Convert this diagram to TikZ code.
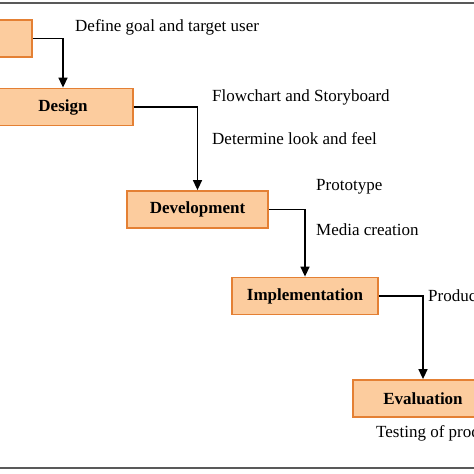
\documentclass[tikz,border=0pt]{standalone}
\usepackage{fontspec}
\setmainfont{Liberation Serif}
\usetikzlibrary{arrows.meta}
\definecolor{boxfill}{RGB}{252,204,158}
\definecolor{boxline}{RGB}{228,128,52}
\tikzset{
  stage/.style={draw=boxline, fill=boxfill, line width=1.8pt, minimum height=37pt, inner sep=0pt, font=\fontsize{17}{20}\selectfont\bfseries},
  note/.style={anchor=west, inner sep=0pt, font=\fontsize{17}{20}\selectfont},
  flow/.style={line width=1.5pt, -{Triangle[length=10pt,width=9pt]}},
  frame/.style={draw=black!65, line width=2pt}
}
\begin{document}
\begin{tikzpicture}[x=1pt,y=-1pt]
\useasboundingbox (0,0) rectangle (474,474);
\clip (0,0) rectangle (474,474);
\fill[white] (0,0) rectangle (474,474);
\draw[frame] (-5,3) coordinate (ftl) -- (480,3) coordinate (ftr);
\draw[frame] (-5,468) coordinate (fbl) -- (480,468) coordinate (fbr);

\node[stage, minimum width=92pt] (analysis) at (-14,38.5) {};
\node[stage, minimum width=140pt] (design) at (63,107) {Design};
\node[stage, minimum width=141pt] (dev) at (197.5,209.5) {Development};
\node[stage, minimum width=146pt] (impl) at (305,296) {Implementation};
\node[stage, minimum width=140pt] (eval) at (423,398.5) {Evaluation};

\draw[flow] (analysis.east) -| (design.north);
\draw[flow] (design.east) -| (dev.north);
\draw[flow] (dev.east) -| (impl.north);
\draw[flow] (impl.east) -| (eval.north);

\node[note] (t1) at (75,27) {Define goal and target user};
\node[note] (t2) at (212,97) {Flowchart and Storyboard};
\node[note] (t3) at (212,139) {Determine look and feel};
\node[note] (t4) at (316,187) {Prototype};
\node[note] (t5) at (316,230) {Media creation};
\node[note] (t6) at (428,296) {Production};
\node[note] (t7) at (376,433) {Testing of product};
\end{tikzpicture}
\end{document}
